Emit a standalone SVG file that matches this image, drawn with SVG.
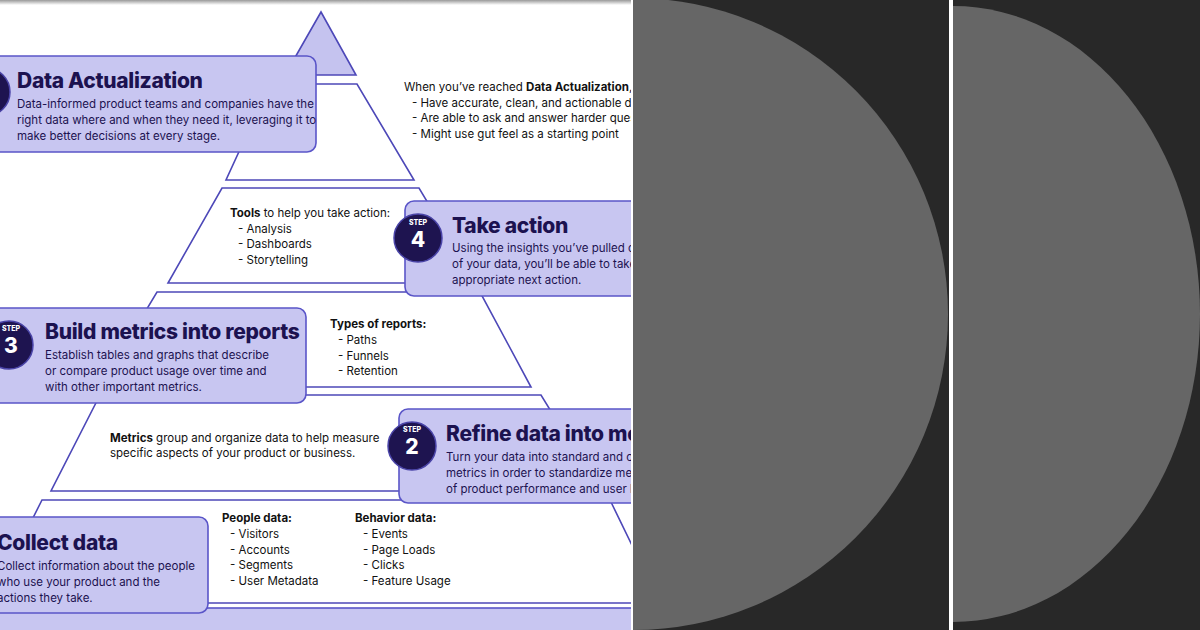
<svg xmlns="http://www.w3.org/2000/svg" width="1200" height="630" viewBox="0 0 1200 630">
<defs>
<style>
.lv{fill:#fff;stroke:#4d48b8;stroke-width:1.6}
.bx{fill:#c8c6f1;stroke:#5a55c8;stroke-width:1.6}
.t{font-family:Inter,"Noto Sans",sans-serif;font-weight:800;font-size:21px;fill:#1c1250;letter-spacing:-0.3px}
.b{font-family:Inter,"Noto Sans",sans-serif;font-size:11.5px;fill:#1c1250}
.k{font-family:Inter,"Noto Sans",sans-serif;font-size:11.5px;fill:#111}
.kb{font-weight:700}
.c{fill:#1e1450;stroke:#4a44a8;stroke-width:1.5}
.s{font-family:Inter,"Noto Sans",sans-serif;font-weight:800;fill:#fff;text-anchor:middle}
</style>
<linearGradient id="sh" x1="0" y1="0" x2="0" y2="1"><stop offset="0" stop-color="#999"/><stop offset="1" stop-color="#fff"/></linearGradient>
<clipPath id="p1"><rect x="633" y="0" width="316" height="630"/></clipPath>
<clipPath id="p2"><rect x="953" y="0" width="247" height="630"/></clipPath>
</defs>
<rect width="1200" height="630" fill="#fff"/>
<rect width="633" height="5" fill="url(#sh)"/>
<g id="pyramid">
<polygon points="321,12 356,75 285,75" fill="#c5c3ef" stroke="#4d48b8" stroke-width="1.6"/>
<polygon class="lv" points="270,84 357,84 414,180 226,180"/>
<polygon class="lv" points="222,188 419,188 476,283 168,283"/>
<polygon class="lv" points="157,292 480,292 531,387 100,387"/>
<polygon class="lv" points="100,395 541,395 600,491 51,491"/>
<polygon class="lv" points="42,500 610,500 660,603 -10,603"/>
<rect x="-5" y="608" width="650" height="30" fill="#c8c6f1" stroke="#5a55c8" stroke-width="1.6"/>
</g>
<g id="actualization">
<rect class="bx" x="-10" y="56" width="326" height="96" rx="9"/>
<circle class="c" cx="-14" cy="92" r="24"/>
<text class="t" x="17" y="88">Data Actualization</text>
<text class="b" x="17" y="108">Data-informed product teams and companies have the</text>
<text class="b" x="17" y="124">right data where and when they need it, leveraging it to</text>
<text class="b" x="17" y="140">make better decisions at every stage.</text>
</g>
<g id="actualization-notes">
<text class="k" x="404" y="91">When you’ve reached <tspan class="kb">Data Actualization</tspan>, you:</text>
<text class="k" x="412" y="107">- Have accurate, clean, and actionable data</text>
<text class="k" x="412" y="122">- Are able to ask and answer harder questions</text>
<text class="k" x="412" y="138">- Might use gut feel as a starting point</text>
</g>
<g id="tools">
<text class="k" x="230" y="217"><tspan class="kb">Tools</tspan> to help you take action:</text>
<text class="k" x="238" y="233">- Analysis</text>
<text class="k" x="238" y="248">- Dashboards</text>
<text class="k" x="238" y="264">- Storytelling</text>
</g>
<g id="step4">
<rect class="bx" x="405" y="201" width="250" height="95" rx="9"/>
<circle class="c" cx="418" cy="238" r="24"/>
<text class="s" x="418" y="225" font-size="7">STEP</text>
<text class="s" x="418" y="247" font-size="21">4</text>
<text class="t" x="452" y="233">Take action</text>
<text class="b" x="452" y="252">Using the insights you’ve pulled out</text>
<text class="b" x="452" y="268">of your data, you’ll be able to take the</text>
<text class="b" x="452" y="284">appropriate next action.</text>
</g>
<g id="step3">
<rect class="bx" x="-10" y="308" width="316" height="95" rx="9"/>
<circle class="c" cx="9" cy="345" r="24"/>
<text class="s" x="11" y="331" font-size="7">STEP</text>
<text class="s" x="11" y="353" font-size="21">3</text>
<text class="t" x="45" y="339">Build metrics into reports</text>
<text class="b" x="45" y="359">Establish tables and graphs that describe</text>
<text class="b" x="45" y="375">or compare product usage over time and</text>
<text class="b" x="45" y="391">with other important metrics.</text>
</g>
<g id="reports">
<text class="k kb" x="330" y="328">Types of reports:</text>
<text class="k" x="338" y="344">- Paths</text>
<text class="k" x="338" y="360">- Funnels</text>
<text class="k" x="338" y="375">- Retention</text>
</g>
<g id="metrics-note">
<text class="k" x="110" y="442"><tspan class="kb">Metrics</tspan> group and organize data  to help measure</text>
<text class="k" x="110" y="457">specific aspects of your product or business.</text>
</g>
<g id="step2">
<rect class="bx" x="399" y="409" width="256" height="94" rx="9"/>
<circle class="c" cx="412" cy="446" r="24"/>
<text class="s" x="412" y="432" font-size="7">STEP</text>
<text class="s" x="412" y="454" font-size="21">2</text>
<text class="t" x="446" y="441">Refine data into metrics</text>
<text class="b" x="446" y="461">Turn your data into standard and custom</text>
<text class="b" x="446" y="477">metrics in order to standardize measures</text>
<text class="b" x="446" y="493">of product performance and user behavior.</text>
</g>
<g id="data-notes">
<text class="k kb" x="222" y="522">People data:</text>
<text class="k" x="230" y="538">- Visitors</text>
<text class="k" x="230" y="554">- Accounts</text>
<text class="k" x="230" y="569">- Segments</text>
<text class="k" x="230" y="585">- User Metadata</text>
<text class="k kb" x="355" y="522">Behavior data:</text>
<text class="k" x="363" y="538">- Events</text>
<text class="k" x="363" y="554">- Page Loads</text>
<text class="k" x="363" y="569">- Clicks</text>
<text class="k" x="363" y="585">- Feature Usage</text>
</g>
<g id="step1">
<rect class="bx" x="-10" y="517" width="218" height="96" rx="9"/>
<text class="t" x="-3" y="550">Collect data</text>
<text class="b" x="-3" y="570">Collect information about the people</text>
<text class="b" x="-3" y="586">who use your product and the</text>
<text class="b" x="-3" y="602">actions they take.</text>
</g>
<g id="panels">
<rect x="631" y="0" width="569" height="630" fill="#fff"/>
<rect x="633" y="0" width="316" height="630" fill="#282828"/>
<ellipse cx="633" cy="314" rx="315" ry="316" fill="#666" clip-path="url(#p1)"/>
<rect x="953" y="0" width="247" height="630" fill="#282828"/>
<ellipse cx="953" cy="314" rx="247" ry="308" fill="#666" clip-path="url(#p2)"/>
</g>
</svg>
